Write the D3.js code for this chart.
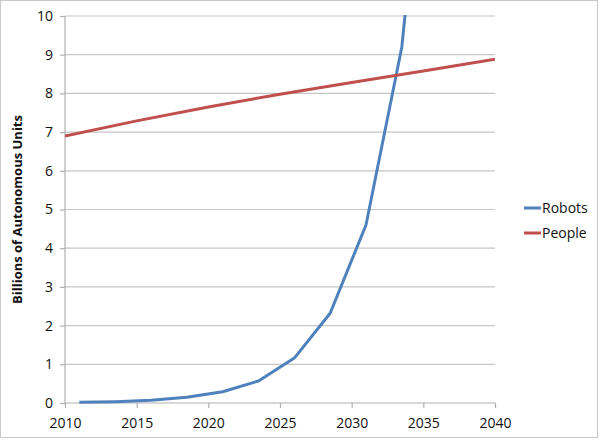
<!DOCTYPE html>
<html>
<head>
<meta charset="utf-8">
<script src="https://cdn.jsdelivr.net/npm/d3@7"></script>
<style>
  body { margin: 0; background: #fff; }
  svg { font-family: "Open Sans", Lato, sans-serif; }
</style>
</head>
<body>
<div id="chart"></div>
<script>
var seriesNames = ["Robots", "People"];
var colors = ["#4f81bd", "#c0504d"];

var robotYears = [2011, 2013.5, 2016, 2018.5, 2021, 2023.5, 2026, 2028.5, 2031, 2033.5, 2036];
var robotValues = [0.02, 0.035, 0.07, 0.15, 0.29, 0.57, 1.16, 2.32, 4.6, 9.2, 18.4];

var peopleYears = [2010, 2015, 2020, 2025, 2030, 2035, 2040];
var peopleValues = [6.9, 7.29, 7.65, 7.98, 8.28, 8.58, 8.88];

var xTicks = [2010, 2015, 2020, 2025, 2030, 2035, 2040];
var yTicks = [0, 1, 2, 3, 4, 5, 6, 7, 8, 9, 10];

// dimensions
var W = 600, H = 440;
var margin = {top: 16, right: 105, bottom: 37, left: 65},
    width = W - margin.left - margin.right,
    height = H - margin.top - margin.bottom;

var root = d3.select("#chart")
    .append("svg")
    .attr("width", W)
    .attr("height", H);

// outer frame
root.append("rect")
    .attr("x", 0.5).attr("y", 0.5)
    .attr("width", W - 3).attr("height", H - 3)
    .attr("fill", "none")
    .attr("stroke", "#c8c8c8");

var svg = root.append("g")
    .attr("transform", "translate(" + margin.left + "," + margin.top + ")");

var x = d3.scaleLinear().domain([2010, 2040]).range([0, width]);
var y = d3.scaleLinear().domain([0, 10]).range([height, 0]);

// gridlines
svg.append("g")
    .selectAll("line")
    .data(yTicks.slice(1))
    .enter().append("line")
    .attr("x1", 0).attr("x2", width)
    .attr("y1", function(d) { return y(d); })
    .attr("y2", function(d) { return y(d); })
    .attr("stroke", "#c6c6c6")
    .attr("stroke-width", 1.2);

// X axis
var xAxis = svg.append("g")
    .attr("transform", "translate(0," + height + ")")
    .call(d3.axisBottom(x).tickValues(xTicks).tickFormat(d3.format("d")).tickSize(5).tickPadding(10));

// Y axis
var yAxis = svg.append("g")
    .call(d3.axisLeft(y).tickValues(yTicks).tickSize(5).tickPadding(7));

[xAxis, yAxis].forEach(function(a) {
  a.select(".domain").attr("stroke", "#b0b0b0").attr("stroke-width", 1.2);
  a.selectAll(".tick line").attr("stroke", "#b0b0b0").attr("stroke-width", 1.2);
  a.selectAll("text").attr("font-size", 14).attr("fill", "#111").attr("font-family", "Open Sans, sans-serif");
});
yAxis.select(".domain").attr("d", "M0," + height + "V0");
xAxis.select(".domain").attr("d", "M0,0H" + width);

// axis title
svg.append("text")
    .attr("transform", "translate(" + (-43) + "," + (height / 2) + ") rotate(-90)")
    .attr("text-anchor", "middle")
    .attr("font-size", 13)
    .attr("font-weight", "bold")
    .attr("fill", "#111")
    .text("Billions of Autonomous Units");

// clip
svg.append("clipPath").attr("id", "clip")
    .append("rect").attr("x", 0).attr("y", -1).attr("width", width).attr("height", height + 2);

var line = d3.line()
    .x(function(d) { return x(d[0]); })
    .y(function(d) { return y(d[1]); });

var robots = d3.zip(robotYears, robotValues);
var people = d3.zip(peopleYears, peopleValues);

var plot = svg.append("g").attr("clip-path", "url(#clip)");

[robots, people].forEach(function(data, i) {
  plot.append("path")
      .datum(data)
      .attr("d", line)
      .attr("fill", "none")
      .attr("stroke", colors[i])
      .attr("stroke-width", 3)
      .attr("stroke-linejoin", "round");
});

// legend
var legend = root.append("g").attr("transform", "translate(524,208)");
seriesNames.forEach(function(name, i) {
  var g = legend.append("g").attr("transform", "translate(0," + (i * 25) + ")");
  g.append("line")
      .attr("x1", 0).attr("x2", 17)
      .attr("y1", 0).attr("y2", 0)
      .attr("stroke", colors[i])
      .attr("stroke-width", 3);
  g.append("text")
      .attr("x", 18)
      .attr("y", 5)
      .attr("font-size", 14)
      .attr("fill", "#111")
      .text(name);
});
</script>
</body>
</html>
